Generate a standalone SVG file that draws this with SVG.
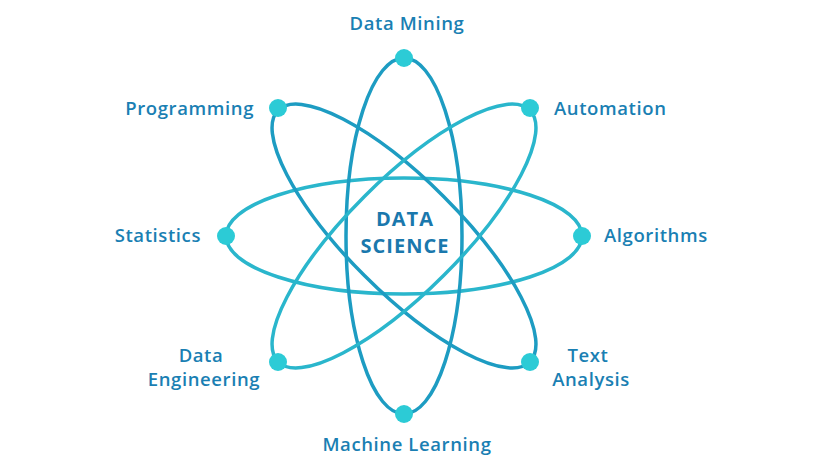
<svg xmlns="http://www.w3.org/2000/svg" width="825" height="470" viewBox="0 0 825 470">
<style>
.o{fill:none;stroke-width:3.5}
.a{stroke:#2ab6cc}.b{stroke:#1d9cc2}
.d{fill:#2ccbd6}
text{font-family:"Open Sans","Liberation Sans",sans-serif;font-size:18.5px;font-weight:600;letter-spacing:0.6px;fill:#1a7fb3}
.c{font-size:20px;font-weight:700;text-anchor:middle;fill:#1a78ad;letter-spacing:1px}
</style>
<rect width="825" height="470" fill="#fff"/>
<g id="connectors">
<ellipse class="o a" cx="404" cy="236" rx="178" ry="58"/>
<ellipse class="o b" cx="404" cy="236" rx="58" ry="178"/>
<ellipse class="o b" cx="404" cy="236" rx="178" ry="56" transform="rotate(45 404 236)"/>
<ellipse class="o a" cx="404" cy="236" rx="178" ry="56" transform="rotate(-45 404 236)"/>
</g>
<g id="center"><text class="c" x="405" y="226">DATA</text><text class="c" x="405" y="253">SCIENCE</text></g>
<g id="n1"><circle class="d" cx="404" cy="58" r="9"/><text x="407" y="30" text-anchor="middle">Data Mining</text></g>
<g id="n2"><circle class="d" cx="530" cy="108" r="9"/><text x="554" y="115">Automation</text></g>
<g id="n3"><circle class="d" cx="582" cy="236" r="9"/><text x="604" y="242">Algorithms</text></g>
<g id="n4"><circle class="d" cx="530" cy="362" r="9"/><text x="588" y="362" text-anchor="middle">Text</text><text x="591" y="386" text-anchor="middle">Analysis</text></g>
<g id="n5"><circle class="d" cx="404" cy="414" r="9"/><text x="407" y="451" text-anchor="middle">Machine Learning</text></g>
<g id="n6"><circle class="d" cx="278" cy="362" r="9"/><text x="201" y="362" text-anchor="middle">Data</text><text x="204" y="386" text-anchor="middle">Engineering</text></g>
<g id="n7"><circle class="d" cx="226" cy="236" r="9"/><text x="201" y="242" text-anchor="end">Statistics</text></g>
<g id="n8"><circle class="d" cx="278" cy="108" r="9"/><text x="254" y="115" text-anchor="end">Programming</text></g>
</svg>
